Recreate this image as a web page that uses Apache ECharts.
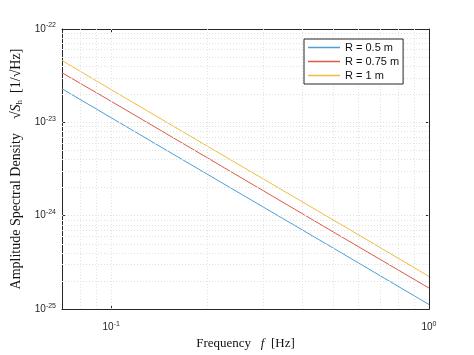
<!DOCTYPE html>
<html>
<head>
<meta charset="utf-8">
<script src="https://cdn.jsdelivr.net/npm/echarts@6/dist/echarts.min.js"></script>
<style>html,body{margin:0;padding:0;background:#fff;}#c{width:474px;height:355px;}</style>
</head>
<body>
<div id="c"></div>
<script>
// Data.
// ASD values are given in units of 1e-25 (1/sqrt(Hz)); labels show the true powers of ten.
const yUnitExp = -25;
const seriesNames = ['R = 0.5 m', 'R = 0.75 m', 'R = 1 m'];
const freq = [0.07, 0.1, 0.2, 0.5, 1];
const asdR05 = [229, 112, 28, 4.5, 1.12];
const asdR075 = [340, 168, 42, 6.7, 1.68];
const asdR1 = [460, 224, 56, 9.0, 2.24];
const xMinorGrid = [0.08, 0.09, 0.2, 0.3, 0.4, 0.5, 0.6, 0.7, 0.8, 0.9];
const yMinorGrid = [2, 3, 4, 5, 6, 7, 8, 9, 20, 30, 40, 50, 60, 70, 80, 90, 200, 300, 400, 500, 600, 700, 800, 900];
const xMajorGrid = [0.1];
const yMajorGrid = [10, 100];
const colors = ['#4a9fdc', '#dc5a45', '#eebd40'];

const axisColor = '#262626';
function decadeLabel(offset) {
  return function (v) {
    const l = Math.log10(v);
    const e = Math.round(l);
    if (Math.abs(l - e) > 1e-6) return '';
    return '10{sup|' + (e + offset) + '}';
  };
}
const labelRich = {
  sup: { fontSize: 7, padding: [0, 0, 7, 0], fontFamily: 'Liberation Sans', color: '#262626' }
};
const gridStyle = { color: '#e0e0e0', type: [1, 2], width: 1 };

function pairs(ys) { return freq.map((f, i) => [f, ys[i]]); }

const gridLines = {
  silent: true, symbol: 'none', animation: false,
  label: { show: false },
  lineStyle: gridStyle,
  data: xMinorGrid.concat(xMajorGrid).map(v => ({ xAxis: v }))
    .concat(yMinorGrid.concat(yMajorGrid).map(v => ({ yAxis: v })))
};

const allData = [asdR05, asdR075, asdR1];
const series = allData.map((d, i) => {
  const s = {
    name: seriesNames[i], type: 'line', data: pairs(d), symbol: 'none', showSymbol: false,
    lineStyle: { width: 1, color: colors[i] }, itemStyle: { color: colors[i] },
    animation: false, z: 3
  };
  if (i === 0) { s.markLine = gridLines; }
  return s;
});

const chart = echarts.init(document.getElementById('c'), null, { renderer: 'canvas' });
chart.setOption({
  backgroundColor: '#fff',
  grid: { left: 62, right: 45, top: 29, bottom: 40 },
  legend: {
    orient: 'vertical', left: 304, top: 39, z: 20,
    icon: 'rect', itemWidth: 32, itemHeight: 1.5, itemGap: 3,
    padding: [3, 4, 3, 4],
    borderColor: '#262626', borderWidth: 1, backgroundColor: '#fff',
    textStyle: { fontFamily: 'Liberation Sans', fontSize: 11, color: '#111' },
    data: seriesNames.map((n, i) => ({ name: n, itemStyle: { color: colors[i], borderWidth: 0 } }))
  },
  xAxis: [{
    type: 'log', logBase: 10, min: 0.07, max: 1,
    axisLine: { lineStyle: { color: axisColor, width: 1 } },
    axisTick: { inside: true, length: 4, lineStyle: { color: axisColor } },
    axisLabel: { formatter: decadeLabel(0), fontFamily: 'Liberation Sans', fontSize: 10, color: '#262626', margin: 11, rich: labelRich },
    splitLine: { show: false },
    name: '{t|Frequency   }{i|f}{t|  [Hz]}', nameLocation: 'middle', nameGap: 26,
    nameTextStyle: { rich: {
      t: { fontFamily: 'Liberation Serif', fontSize: 13, color: '#111' },
      i: { fontFamily: 'Liberation Serif', fontStyle: 'italic', fontSize: 13, color: '#111' }
    } }
  }, {
    type: 'log', logBase: 10, min: 0.07, max: 1, position: 'top',
    axisLine: { lineStyle: { color: axisColor, width: 1 } },
    axisTick: { inside: true, length: 4, lineStyle: { color: axisColor } },
    axisLabel: { show: false }, splitLine: { show: false }
  }],
  yAxis: [{
    type: 'log', logBase: 10, min: 1, max: 1000,
    axisLine: { show: true, lineStyle: { color: axisColor, width: 1 } },
    axisTick: { show: true, inside: true, length: 4, lineStyle: { color: axisColor } },
    axisLabel: { formatter: decadeLabel(yUnitExp), fontFamily: 'Liberation Sans', fontSize: 10, color: '#262626', margin: 6, rich: labelRich },
    splitLine: { show: false },
    name: '{t|Amplitude Spectral Density    }{r|√}{i|S}{s|h}{t|  [1/√Hz]}',
    nameLocation: 'middle', nameGap: 33, nameRotate: 90,
    nameTextStyle: { rich: {
      t: { fontFamily: 'Liberation Serif', fontSize: 14, color: '#111' },
      r: { fontFamily: 'Liberation Serif', fontSize: 14, color: '#111' },
      i: { fontFamily: 'Liberation Serif', fontStyle: 'italic', fontSize: 14, color: '#111' },
      s: { fontFamily: 'Liberation Serif', fontSize: 9, color: '#111', padding: [6, 0, 0, 0] }
    } }
  }, {
    type: 'log', logBase: 10, min: 1, max: 1000, position: 'right',
    axisLine: { show: true, lineStyle: { color: axisColor, width: 1 } },
    axisTick: { show: true, inside: true, length: 4, lineStyle: { color: axisColor } },
    axisLabel: { show: false }, splitLine: { show: false }
  }],
  series: series
});
</script>
</body>
</html>
